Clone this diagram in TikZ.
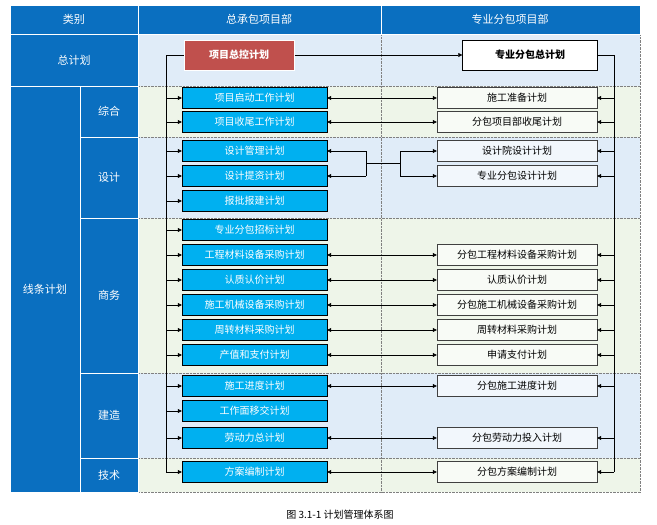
\documentclass[tikz,border=0pt]{standalone}
\usepackage{fontspec}
\newfontfamily\cjk{Noto Sans CJK SC}
\usetikzlibrary{arrows.meta}
\definecolor{hdr}{HTML}{0A6FC0}
\definecolor{lblue}{HTML}{E0ECF8}
\definecolor{lgreen}{HTML}{EEF5E9}
\definecolor{cyanbox}{HTML}{00B0F0}
\definecolor{redbox}{HTML}{C0504D}
\tikzset{
 hcell/.style={fill=hdr,draw=white,line width=1pt},
 htext/.style={text=white,font=\cjk\fontsize{11}{12}\selectfont},
 lbox/.style={draw=black,fill=cyanbox,minimum width=145pt,minimum height=21pt,text=white,font=\cjk\fontsize{10}{11}\selectfont,inner sep=0pt},
 rbox/.style={draw=black!75,fill=white,fill opacity=0.6,text opacity=1,minimum width=160pt,minimum height=21pt,font=\cjk\fontsize{10}{11}\selectfont,inner sep=0pt},
 arr/.style={-{Triangle[length=4pt,width=4pt]},line width=0.6pt},
 darr/.style={{Triangle[length=4pt,width=4pt]}-{Triangle[length=4pt,width=4pt]},line width=0.6pt},
 dots/.style={draw=gray,densely dotted,line width=0.4pt}
}
\begin{document}
\begin{tikzpicture}[x=1pt,y=-1pt]
\useasboundingbox (0,0) rectangle (657,525);
% backgrounds
\fill[lblue] (138,34) rectangle (640,86);
\fill[lgreen] (138,86) rectangle (640,137);
\fill[lblue] (138,137) rectangle (640,218);
\fill[lgreen] (138,218) rectangle (640,373);
\fill[lblue] (138,373) rectangle (640,458);
\fill[lgreen] (138,458) rectangle (640,492);
\foreach \y in {86,137,218,373,458,492} \draw[dots] (138,\y) -- (640,\y);
\draw[dots] (381,34) -- (381,492);
\draw[dots] (640,34) -- (640,492);
% header cells
\draw[hcell] (10,5) rectangle (138,34);
\draw[hcell] (138,5) rectangle (381,34);
\draw[hcell] (381,5) rectangle (640,34);
\draw[hcell] (10,34) rectangle (138,86);
\draw[hcell] (10,86) rectangle (80,492);
\draw[hcell] (80,86) rectangle (138,137);
\draw[hcell] (80,137) rectangle (138,218);
\draw[hcell] (80,218) rectangle (138,373);
\draw[hcell] (80,373) rectangle (138,458);
\draw[hcell] (80,458) rectangle (138,492);
\node[htext] (h1) at (74,19) {类别};
\node[htext] (h2) at (259,19) {总承包项目部};
\node[htext] (h3) at (510,19) {专业分包项目部};
\node[htext] (h4) at (74,60) {总计划};
\node[htext] (h5) at (45,289) {线条计划};
\node[htext] (c1) at (109,111) {综合};
\node[htext] (c2) at (109,177) {设计};
\node[htext] (c3) at (109,295) {商务};
\node[htext] (c4) at (109,415) {建造};
\node[htext] (c5) at (109,475) {技术};
% top boxes
\node[draw=white,line width=1pt,fill=redbox,minimum width=110pt,minimum height=30pt,text=white,font=\cjk\bfseries\fontsize{10}{11}\selectfont,drop shadow/.style={}] (top) at (239,55) {项目总控计划};
\node[draw=black,fill=white,minimum width=135pt,minimum height=30pt,font=\cjk\bfseries\fontsize{10}{11}\selectfont] (tops) at (530,55) {专业分包总计划};
\draw[arr] (top.east) -- (tops.west);
% left boxes
\foreach \n/\y/\t in {L1/98/项目启动工作计划,L2/122/项目收尾工作计划,L3/151/设计管理计划,L4/176/设计提资计划,L5/201/报批报建计划,L6/230/专业分包招标计划,L7/255/工程材料设备采购计划,L8/280/认质认价计划,L9/305/施工机械设备采购计划,L10/330/周转材料采购计划,L11/355/产值和支付计划,L12/386/施工进度计划,L13/411/工作面移交计划,L14/438/劳动力总计划,L15/472/方案编制计划}
 {\node[lbox] (\n) at (254.5,\y) {\t};
  \coordinate (a\n) at (166,\y);
  \draw[arr] (a\n) -- (\n.west);}
% right boxes
\foreach \n/\y/\t in {R1/98/施工准备计划,R2/122/分包项目部收尾计划,R3/151/设计院设计计划,R4/176/专业分包设计计划,R7/255/分包工程材料设备采购计划,R8/280/认质认价计划,R9/305/分包施工机械设备采购计划,R10/330/周转材料采购计划,R11/355/申请支付计划,R12/386/分包施工进度计划,R14/438/分包劳动力投入计划,R15/472/分包方案编制计划}
 {\node[rbox] (\n) at (517,\y) {\t};
  \coordinate (b\n) at (614,\y);
  \draw[arr] (b\n) -- (\n.east);}
% trunks
\draw[line width=0.8pt] (top.west) -| (aL15);
\draw[line width=0.8pt] (tops.east) -| (bR15);
% pairs
\foreach \i in {1,2,7,8,9,10,11,12,14,15} \draw[darr] (L\i.east) -- (R\i.west);
% design bracket
\coordinate (m1) at (366,151); \coordinate (m2) at (366,176);
\coordinate (m3) at (400,151); \coordinate (m4) at (400,176);
\draw[line width=0.6pt,{Triangle[length=4pt,width=4pt]}-] (L3.east) -- (m1) -- (m2);
\draw[line width=0.6pt,{Triangle[length=4pt,width=4pt]}-] (L4.east) -- (m2);
\draw[line width=1pt] (366,163) -- (400,163);
\draw[arr] (m4) -- (m3) -- (R3.west);
\draw[arr] (m4) -- (R4.west);
\node[font=\cjk\fontsize{10}{11}\selectfont] (cap) at (340,515) {图 3.1-1 计划管理体系图};
\end{tikzpicture}
\end{document}
